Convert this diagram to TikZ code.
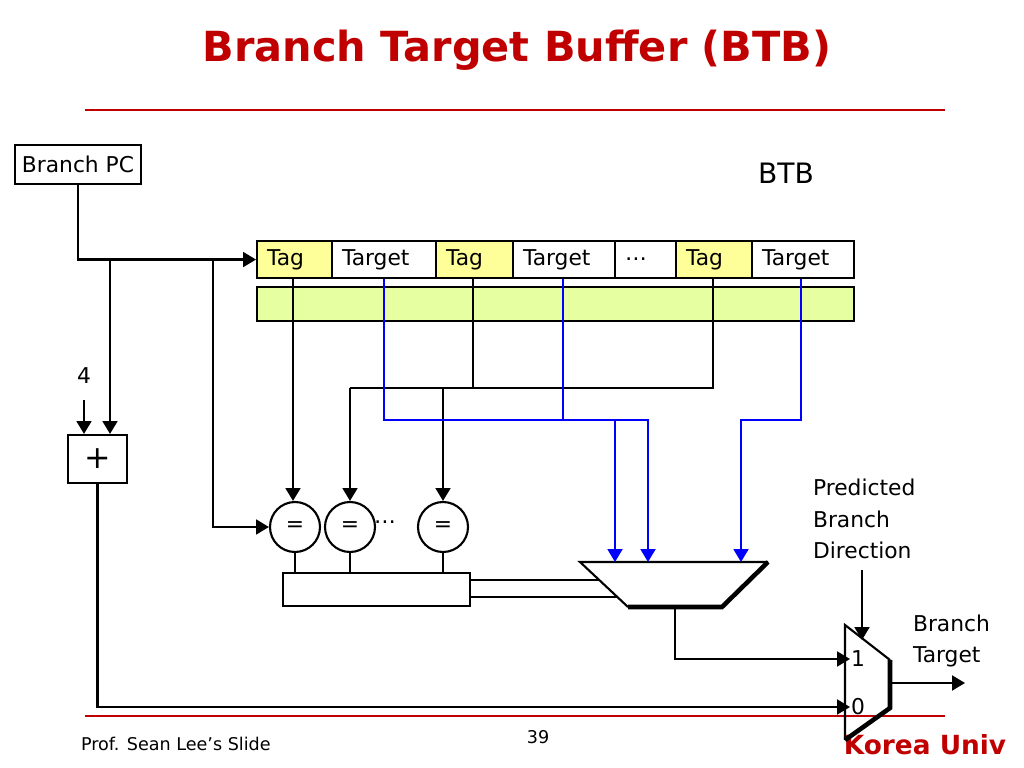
\documentclass[tikz,border=0pt]{standalone}
\usepackage{fontspec}
\setmainfont{DejaVu Sans}
\usetikzlibrary{arrows.meta,positioning}
\definecolor{darkred}{RGB}{192,0,0}
\definecolor{tagyellow}{RGB}{255,255,153}
\definecolor{bargreen}{RGB}{230,255,160}
\tikzset{
	every path/.style={semithick},
	lbl/.style={font=\fontsize{6.2pt}{7.5pt}\selectfont, inner sep=0pt},
	cell/.style={
		lbl,
		draw,
		rectangle,
		minimum height=3.7mm,
		inner xsep=1mm,
		align=left,
		anchor=north west,
	},
	tag/.style={cell, fill=tagyellow},
	cmp/.style={
		draw,
		circle,
		minimum size=5mm,
		inner sep=0pt,
		lbl,
	},
	wire/.style={-{Triangle[angle=60:4.2pt 0]}},
	bluewire/.style={wire, blue},
	muxedge/.style={line width=1.3pt},
}

\begin{document}
\begin{tikzpicture}[x=0.1mm,y=-0.1mm]
		\useasboundingbox (0,0) rectangle (1024,768);

		% title and frame
		\node[font=\fontsize{11.8pt}{14pt}\selectfont\bfseries, text=darkred] (title) at (517,50) {Branch Target Buffer (BTB)};
		\draw[darkred] (85,110) -- (945,110);
		\draw[darkred] (85,716) -- (945,716);
		\node[lbl, font=\fontsize{5pt}{6pt}\selectfont, anchor=west] (prof) at (80,744) {Prof. Sean Lee’s Slide};
		\node[lbl, font=\fontsize{5pt}{6pt}\selectfont] (page) at (538,737) {39};
		\node[font=\fontsize{7.5pt}{9pt}\selectfont\bfseries, text=darkred, inner sep=0pt] (univ) at (925,745) {Korea Univ};

		\node[draw, lbl, minimum width=12.6mm, minimum height=3.9mm] (PC) at (78,164.5) {Branch PC};
		\node[lbl, font=\fontsize{8pt}{9pt}\selectfont] (btbname) at (786,173) {BTB};

		% BTB row
		\node[tag, text width=5.5mm] (T1) at (256,240) {Tag};
		\node[cell, text width=8.4mm] (G1) at (331,240) {Target};
		\node[tag, text width=5.7mm] (T2) at (435,240) {Tag};
		\node[cell, text width=8.2mm] (G2) at (512,240) {Target};
		\node[cell, text width=4.1mm] (dots) at (614,240) {\dots};
		\node[tag, text width=5.6mm] (T3) at (675,240) {Tag};
		\node[cell, text width=8.2mm] (G3) at (751,240) {Target};
		\node[draw, fill=bargreen, minimum width=59.7mm, minimum height=3.4mm, inner sep=0pt, anchor=north west] (bar) at (256,286) {};

		% comparators and encoder
		\node[cmp] (C1) at (295,527) {=};
		\node[cmp] (C2) at (350,527) {=};
		\node[lbl] (cdots) at (385,522) {\dots};
		\node[cmp] (C3) at (443,527) {=};
		\node[draw, minimum width=18.7mm, minimum height=3.3mm, inner sep=0pt, anchor=north west] (enc) at (282,572) {};

		% adder
		\node[draw, lbl, minimum width=5.9mm, minimum height=4.8mm, font=\fontsize{9pt}{9pt}\selectfont] (add) at (97.5,459) {+};
		\node[lbl] (four) at (84,376) {4};
		\coordinate (fourin) at (84,400);

		% target mux
		\coordinate (M1) at (580,562);
		\coordinate (M2) at (768,562);
		\coordinate (M3) at (722,607);
		\coordinate (M4) at (628,607);
		\draw (M4) -- (M1) -- (M2);
		\draw[muxedge] (M2) -- (M3) -- (M4);

		% final mux
		\coordinate (F1) at (845,625);
		\coordinate (F2) at (890,660);
		\coordinate (F3) at (890,708);
		\coordinate (F4) at (845,740);
		\draw (F4) -- (F1) -- (F2);
		\draw[muxedge] (F2) -- (F3) -- (F4);
		\node[lbl, anchor=west] (in1) at (850,659) {1};
		\node[lbl, anchor=west] (in0) at (850,707) {0};
		\node[lbl, anchor=north west, align=left, font=\fontsize{6.2pt}{9pt}\selectfont] (pred) at (812,478) {Predicted\\Branch\\Direction};
		\node[lbl, anchor=west, align=left, font=\fontsize{6.2pt}{9pt}\selectfont] (bt) at (912,641) {Branch\\Target};
		\coordinate (out) at (965,683);

		% PC wires
		\draw[wire] (PC.south) |- (T1.west);
		\draw[wire] (110,260) -- (add.north -| 110,0);
		\draw[wire] (fourin) -- (add.north -| fourin);
		\draw[wire] (213,260) |- (C1.west);
		\draw[wire] (add.south) |- (in0.west);

		% tag wires
		\draw[wire] (T1.south -| 293,0) -- (C1.north -| 293,0);
		\draw (T2.south -| 473,0) -- (473,388);
		\draw (T3.south -| 713,0) -- (713,388) -- (350,388);
		\draw[wire] (350,388) -- (C2.north);
		\draw[wire] (443,388) -- (C3.north);
		\foreach \c in {C1,C2,C3}
			\draw (\c.south) -- (\c.south |- enc.north);

		% target wires
		\draw[bluewire] (G1.south -| 384,0) |- (615,420) -- (615,562);
		\draw[bluewire] (G2.south -| 563,0) |- (648,420) -- (648,562);
		\draw[bluewire] (G3.south -| 801,0) |- (741,420) -- (741,562);

		% encoder to mux, mux to final mux
		\draw (enc.north east |- 0,580) -- (599,580);
		\draw (enc.north east |- 0,597) -- (617,597);
		\draw[wire] (675,607) |- (in1.west);
		\draw[wire] (862,570) -- (862,640);
		\draw[wire] (890,683) -- (out);

	\end{tikzpicture}
\end{document}
